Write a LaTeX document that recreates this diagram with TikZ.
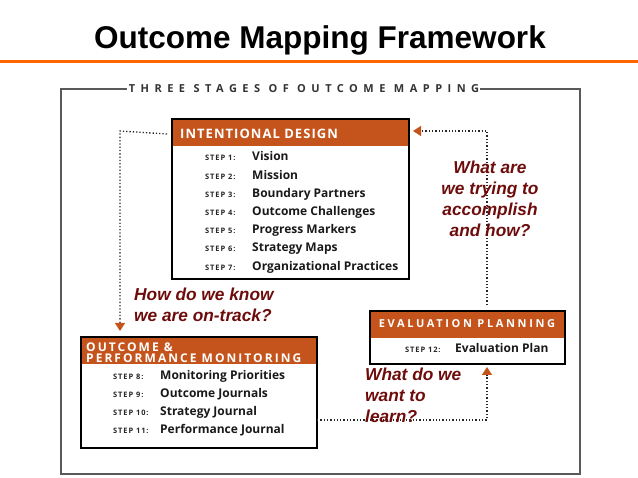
\documentclass[tikz,border=0pt]{standalone}
\usepackage{fontspec}
\setmainfont{Liberation Sans}
\newfontfamily\boxfont{Open Sans}
\newfontfamily\lblfont[LetterSpace=12]{Open Sans}
\newfontfamily\headfont[LetterSpace=8]{Open Sans}
\newfontfamily\opmfont[LetterSpace=17]{Open Sans}
\newfontfamily\epfont[LetterSpace=24]{Open Sans}
\newfontfamily\framefont[LetterSpace=50]{Open Sans}
\usetikzlibrary{arrows.meta}
\definecolor{omorange}{RGB}{196,84,28}
\definecolor{lineorange}{RGB}{255,102,0}
\definecolor{qred}{RGB}{110,12,12}
\tikzset{
  frameline/.style={draw=black!65, line width=1.3pt},
  stagebox/.style={draw=black, line width=1.8pt, minimum width=#1, anchor=north west, inner sep=0pt},
  headbar/.style={fill=omorange, minimum width=#1, minimum height=28, anchor=north west, inner sep=0pt},
  headtext/.style={text=white, font=\headfont\bfseries\fontsize{13}{13}\selectfont, anchor=west, inner sep=0pt, align=left},
  steplbl/.style={font=\lblfont\bfseries\fontsize{7.5}{8}\selectfont, anchor=base west, inner sep=0pt, text=black!85},
  steptxt/.style={font=\boxfont\bfseries\fontsize{12}{13}\selectfont, anchor=base west, inner sep=0pt, text=black!90},
  conn/.style={dotted, line width=1.3pt, draw=black!85},
  tipped/.style={-{Triangle[length=8pt,width=10pt,color=omorange,fill=omorange]}},
  question/.style={text=qred, font=\bfseries\itshape\fontsize{17.3}{21}\selectfont, inner sep=0pt}
}
\begin{document}
\begin{tikzpicture}[x=1pt,y=-1pt]
\useasboundingbox (0,0) rectangle (638,478);
% title
\node[font=\bfseries\fontsize{31.5}{34}\selectfont, anchor=base] (title) at (320,49) {Outcome Mapping Framework};
\draw[lineorange, line width=3pt] (0,62) -- (638,62);
% frame
\node[font=\framefont\bfseries\fontsize{11}{11}\selectfont, text=black!80, inner sep=0pt] (frametitle) at (304,89) {THREE STAGES OF OUTCOME MAPPING};
\draw[frameline] ([xshift=-2pt]frametitle.west) -- (61,89) -- (61,474) -- (580,474) -- (580,89) -- ([xshift=1pt]frametitle.east);

% Intentional design
\node[headbar=237] (idh) at (171,118) {};
\node[stagebox=237, minimum height=160] (id) at (171,118) {};
\node[headtext] (idht) at (180,134) {INTENTIONAL DESIGN};
\foreach \y/\n/\t [count=\i] in {157/1/Vision,176/2/Mission,194/3/Boundary Partners,212/4/Outcome Challenges,230/5/Progress Markers,248/6/Strategy Maps,267/7/Organizational Practices}{
  \node[steplbl] (ids\i) at (205,\y+4) {STEP \n:};
  \node[steptxt] (idt\i) at (252,\y+4) {\t};
}

% Outcome & performance monitoring
\node[headbar=236] (opmh) at (80,336) {};
\node[stagebox=236, minimum height=111] (opm) at (80,336) {};
\node[headtext, font=\opmfont\bfseries\fontsize{12}{11.5}\selectfont] (opmht) at (86,352.5) {OUTCOME \&\\PERFORMANCE MONITORING};
\foreach \y/\n/\t [count=\i] in {376/8/Monitoring Priorities,394/9/Outcome Journals,412/10/Strategy Journal,430/11/Performance Journal}{
  \node[steplbl] (opms\i) at (113,\y+4) {STEP \n:};
  \node[steptxt] (opmt\i) at (160,\y+4) {\t};
}

% Evaluation planning
\node[headbar=195] (eph) at (369,310) {};
\node[stagebox=195, minimum height=53] (ep) at (369,310) {};
\node[headtext, font=\epfont\bfseries\fontsize{11}{11}\selectfont, anchor=center] (epht) at (467,324) {EVALUATION PLANNING};
\node[steplbl] (eps) at (405,353) {STEP 12:};
\node[steptxt] (ept) at (455,353) {Evaluation Plan};

% connectors
\coordinate (c1) at (120,131);
\coordinate (c1e) at (120,331);
\draw[conn, tipped] ([xshift=-4pt]id.west |- idht) -- (c1) -- (c1e);
\coordinate (c2s) at (317,420);
\coordinate (c2) at (487,420);
\coordinate (c2e) at (487,367);
\draw[conn, tipped] (c2s) -- (c2) -- (c2e);
\coordinate (c3s) at (487,305);
\coordinate (c3) at (487,131);
\coordinate (c3e) at (413,131);
\draw[conn, tipped] (c3s) -- (c3) -- (c3e);

% questions
\node[question, align=center, anchor=north] (q1) at (490,161) {What are\\we trying to\\accomplish\\and how?};
\node[question, align=left, anchor=north west] (q2) at (134,288) {How do we know\\we are on-track?};
\node[question, align=left, anchor=north west] (q3) at (365,368) {What do we\\want to\\learn?};
\end{tikzpicture}
\end{document}
